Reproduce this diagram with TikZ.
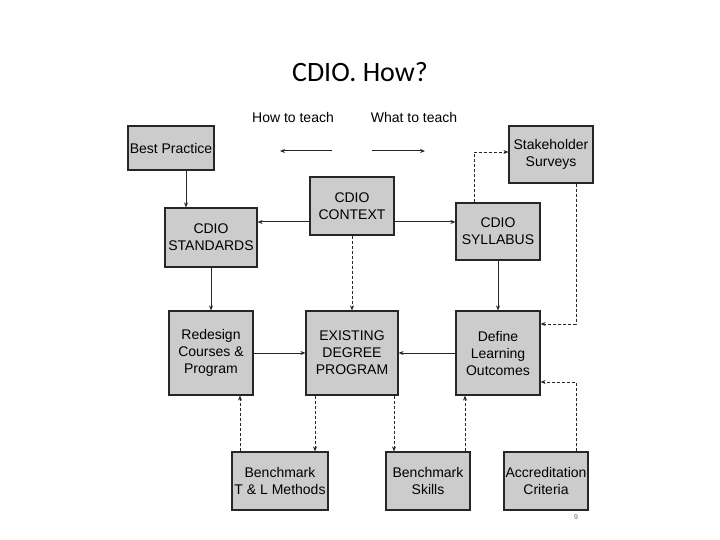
\documentclass[tikz,border=0pt]{standalone}
\usepackage{fontspec}
\setmainfont{Liberation Sans}
\newfontfamily\titlefont{Carlito}
\usetikzlibrary{arrows.meta}
\begin{document}
\begin{tikzpicture}[x=1pt,y=-1pt,
  box/.style={draw=black!85,line width=1.2pt,fill=black!20,inner sep=0pt,align=center,font=\fontsize{14}{17}\selectfont},
  arr/.style={draw=black!85,line width=1pt,-{Stealth[length=5pt,width=4pt]}},
  darr/.style={arr,dashed,line width=0.9pt,dash pattern=on 3pt off 2pt}]
\useasboundingbox (0,0) rectangle (720,540);
\node[font=\titlefont\fontsize{28}{30}\selectfont] (title) at (360,72) {CDIO. How?};
\newcommand{\bx}[6]{\node[box,minimum width=#4-#2,minimum height=#5-#3] (#1) at ({(#2+#4)/2},{(#3+#5)/2}) {#6};}
\bx{bp}{128}{126}{214}{170}{Best Practice}
\bx{std}{165}{208}{257}{267}{CDIO\\STANDARDS}
\bx{ctx}{310}{177}{394}{235}{CDIO\\CONTEXT}
\bx{syl}{456}{203}{540}{260}{CDIO\\SYLLABUS}
\bx{sh}{509}{126}{593}{183}{Stakeholder\\Surveys}
\bx{red}{169}{311}{253}{395}{Redesign\\Courses \&\\Program}
\bx{ex}{306}{311}{398}{395}{EXISTING\\DEGREE\\PROGRAM}
\bx{def}{456}{311}{540}{395}{Define\\Learning\\Outcomes}
\bx{btl}{232}{452}{328}{510}{Benchmark\\T \& L Methods}
\bx{bs}{386}{452}{470}{510}{Benchmark\\Skills}
\bx{acc}{504}{452}{588}{510}{Accreditation\\Criteria}
\node[font=\fontsize{14}{17}\selectfont] (how) at (293,117) {How to teach};
\node[font=\fontsize{14}{17}\selectfont] (what) at (414,117) {What to teach};
\coordinate (h1) at (332,151); \coordinate (h2) at (280,151);
\coordinate (w1) at (372,151); \coordinate (w2) at (425,151);
\draw[arr] (h1) -- (h2);
\draw[arr] (w1) -- (w2);
\draw[arr] (ctx.west |- 0,222) -- (std.east |- 0,222);
\draw[arr] (ctx.east |- 0,222) -- (syl.west |- 0,222);
\draw[arr] (bp.south -| 186,0) -- (std.north -| 186,0);
\draw[arr] (std.south -| 211,0) -- (red.north -| 211,0);
\draw[darr] (ctx.south -| 352,0) -- (ex.north -| 352,0);
\draw[arr] (syl.south -| 498,0) -- (def.north -| 498,0);
\draw[darr] (syl.north -| 474,0) |- (sh.west |- 0,152);
\draw[darr] (sh.south -| 576,0) |- (def.east |- 0,324);
\draw[darr] (acc.north -| 576,0) |- (def.east |- 0,382);
\draw[arr] (red.east |- 0,353) -- (ex.west |- 0,353);
\draw[arr] (def.west |- 0,353) -- (ex.east |- 0,353);
\draw[darr] (btl.north -| 240,0) -- (red.south -| 240,0);
\draw[darr] (ex.south -| 315,0) -- (btl.north -| 315,0);
\draw[darr] (ex.south -| 394,0) -- (bs.north -| 394,0);
\draw[darr] (bs.north -| 465,0) -- (def.south -| 465,0);
\node[font=\fontsize{7}{8}\selectfont,text=black!60] (pg) at (576,517) {9};
\end{tikzpicture}
\end{document}
